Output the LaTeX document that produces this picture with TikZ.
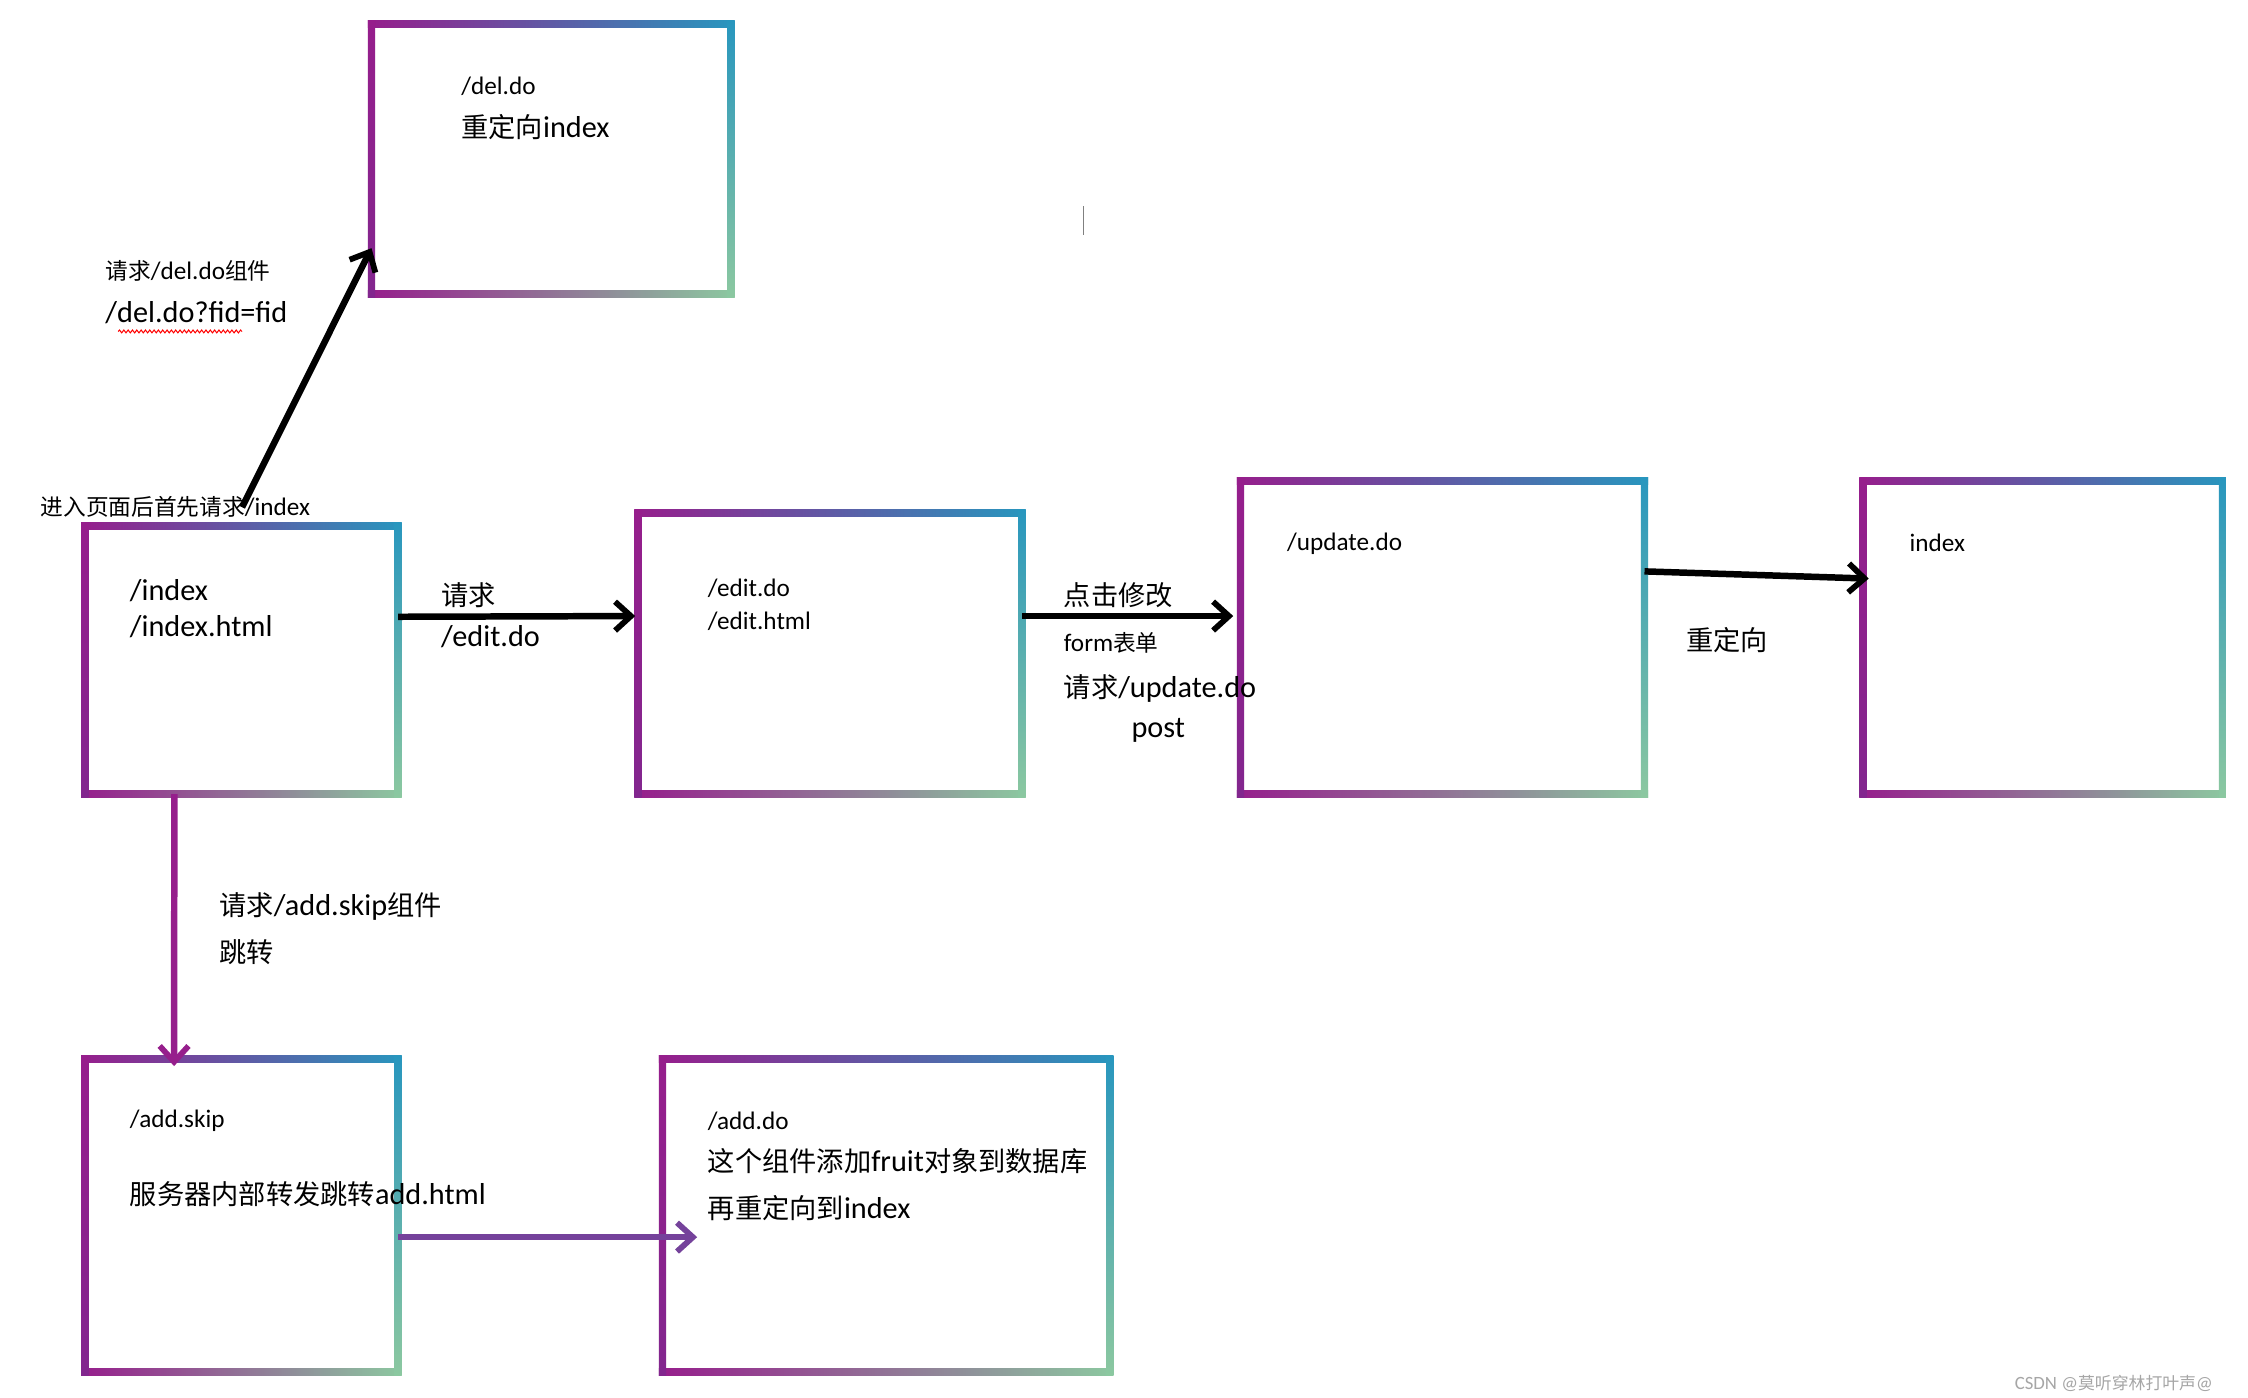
\documentclass[tikz,border=0pt]{standalone}
\usepackage{fontspec}
\setmainfont{Carlito}
\newfontfamily\cjk[Scale=0.9]{Noto Sans CJK SC}
\usetikzlibrary{calc,arrows.meta,decorations.pathmorphing}
\definecolor{bpur}{RGB}{150,30,140}
\definecolor{bteal}{RGB}{40,150,190}
\definecolor{bgreen}{RGB}{140,200,160}
\definecolor{bblue}{RGB}{50,70,150}
\tikzset{
 boxn/.style={draw=none,inner sep=0pt},
 lab/.style={anchor=west,inner sep=0pt,font=\fontsize{21}{24}\selectfont},
 slab/.style={anchor=west,inner sep=0pt,font=\fontsize{17.5}{20}\selectfont},
 arr/.style={line width=4.5pt,-{Straight Barb[length=11pt,width=20pt,line width=4pt]}},
}
\newcommand{\gb}[1]{%
 \shade[left color=bpur,right color=bteal] ($(#1.north west)+(-2.5,-2.5)$) rectangle ($(#1.north east)+(2.5,2.5)$);
 \shade[left color=bpur,right color=bgreen] ($(#1.south west)+(-2.5,-2.5)$) rectangle ($(#1.south east)+(2.5,2.5)$);
 \shade[top color=bpur,bottom color=bpur!80!bblue] ($(#1.north west)+(-2.5,-2.5)$) rectangle ($(#1.south west)+(2.5,2.5)$);
 \shade[top color=bteal,bottom color=bgreen] ($(#1.north east)+(-2.5,-2.5)$) rectangle ($(#1.south east)+(2.5,2.5)$);}
\begin{document}
\begin{tikzpicture}[x=1pt,y=-1pt]
\useasboundingbox (0,0) rectangle (1560,970);
\fill[white] (0,0) rectangle (1560,970);
\node[boxn,minimum width=249pt,minimum height=187pt] (del) at (382.5,110.5) {};
\node[boxn,minimum width=217pt,minimum height=186pt] (idx) at (167.5,458) {};
\node[boxn,minimum width=266pt,minimum height=195pt] (edit) at (576,453.5) {};
\node[boxn,minimum width=280pt,minimum height=217pt] (upd) at (1001,442.5) {};
\node[boxn,minimum width=249pt,minimum height=217pt] (idx2) at (1417.5,442.5) {};
\node[boxn,minimum width=217pt,minimum height=217pt] (skip) at (167.5,843.5) {};
\node[boxn,minimum width=310pt,minimum height=217pt] (add) at (615,843.5) {};
\gb{del}\gb{idx}\gb{edit}\gb{upd}\gb{idx2}\gb{skip}\gb{add}
% arrows
\coordinate (s1) at (168,352);
\draw[arr] (s1) -- ($(del.south west)+(0,-32)$);
\draw[arr] ($(idx.east)+(0,-30)$) -- ($(edit.west)+(-2,-26)$);
\draw[arr] ($(edit.east)+(0,-26)$) -- ($(upd.west)+(-5,-15)$);
\draw[arr] ($(upd.east)+(0,-46)$) -- ($(idx2.west)+(4,-41)$);
\draw[arr,bpur] (121,551) -- ($(skip.north west)+(62,5)$);
\draw[arr,bpur!70!bteal] ($(skip.east)+(0,15)$) -- ($(add.west)+(24,15)$);
\draw[line width=0.8pt,gray] (752,143) -- (752,163);
% texts
\node[slab] (t1) at (320,60) {/del.do};
\node[lab] (t2) at (320,88) {{\cjk 重定向}index};
\node[slab] (t3) at (73,188) {{\cjk 请求}/del.do{\cjk 组件}};
\node[lab] (t4) at (73,217) {/del.do?fid=fid};
\draw[red,line width=0.7pt,decorate,decoration={snake,amplitude=1pt,segment length=3pt}] (82,230) -- (168,230);
\node[slab] (t5) at (28,352) {{\cjk 进入页面后首先请求}/index};
\node[lab] (t6) at (90,410) {/index};
\node[lab] (t7) at (90,435) {/index.html};
\node[lab] (t8) at (306,413) {{\cjk 请求}};
\node[lab] (t9) at (306,442) {/edit.do};
\node[slab] (t10) at (491,408) {/edit.do};
\node[slab] (t11) at (491,431) {/edit.html};
\node[lab] (t12) at (738,413) {{\cjk 点击修改}};
\node[slab] (t13) at (738,446) {form{\cjk 表单}};
\node[lab] (t14) at (738,478) {{\cjk 请求}/update.do};
\node[lab] (t15) at (785,507) {post};
\node[slab] (t16) at (893,377) {/update.do};
\node[lab] (t17) at (1170,444) {{\cjk 重定向}};
\node[slab] (t18) at (1325,377) {index};
\node[lab] (t19) at (152,629) {{\cjk 请求}/add.skip{\cjk 组件}};
\node[lab] (t20) at (152,661) {{\cjk 跳转}};
\node[slab] (t21) at (90,778) {/add.skip};
\node[lab] (t22) at (90,829) {{\cjk 服务器内部转发跳转}add.html};
\node[slab] (t23) at (491,778) {/add.do};
\node[lab] (t24) at (491,806) {{\cjk 这个组件添加}fruit{\cjk 对象到数据库}};
\node[lab] (t25) at (491,838) {{\cjk 再重定向到}index};
\node[anchor=west,inner sep=0pt,text=gray!70,font=\fontsize{13}{15}\selectfont] (wm) at (1398,960) {CSDN @{\cjk 莫听穿林打叶声}@};
\end{tikzpicture}
\end{document}
